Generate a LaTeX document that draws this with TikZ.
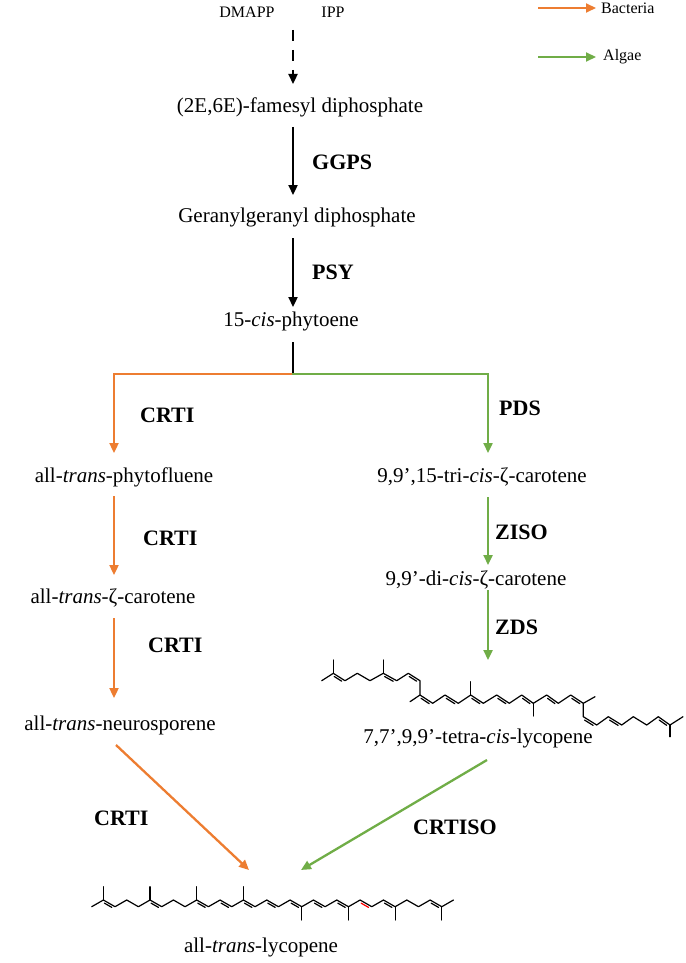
\documentclass[tikz,border=0pt]{standalone}
\usepackage{fontspec}
\setmainfont{Liberation Serif}
\usetikzlibrary{arrows.meta,calc}
\definecolor{borange}{RGB}{237,125,49}
\definecolor{agreen}{RGB}{112,173,71}
\newcommand{\dbond}[3][black]{\draw[mol,#1] ($ ($(#2)!0.18!(#3)$)!2.2pt!-90:(#3) $) -- ($ ($(#2)!0.82!(#3)$)!2.2pt!90:(#2) $);}
\begin{document}
\begin{tikzpicture}[x=1pt,y=-1pt,
  txt/.style={font=\fontsize{21}{24}\selectfont, inner sep=0pt},
  small/.style={font=\fontsize{16}{19}\selectfont, inner sep=0pt},
  enz/.style={font=\fontsize{22}{25}\selectfont\bfseries, inner sep=0pt, anchor=west},
  arr/.style={line width=2.3pt,-{Triangle[length=10pt,width=9pt]}},
  mol/.style={line width=1.2pt, line cap=round, line join=round}]
\useasboundingbox (0,0) rectangle (685,963);
% legend
\coordinate (lb1) at (538,8); \coordinate (lb2) at (596,8);
\coordinate (la1) at (538,57); \coordinate (la2) at (596,57);
\draw[arr,borange,line width=2pt] (lb1) -- (lb2);
\draw[arr,agreen,line width=2pt] (la1) -- (la2);
\node[small,anchor=west] (lbac) at (601,8) {Bacteria};
\node[small,anchor=west] (lalg) at (603,57) {Algae};
% top
\node[small] (dmapp) at (247,12) {DMAPP};
\node[small] (ipp) at (333,12) {IPP};
\coordinate (ds) at (293,30);
\node[txt] (fpp) at (300,107) {(2E,6E)-famesyl diphosphate};
\node[txt] (ggpp) at (297,217) {Geranylgeranyl diphosphate};
\node[txt] (phy) at (291,321) {15-\textit{cis}-phytoene};
\draw[arr,dash pattern=on 11pt off 9pt] (ds) -- (293,84);
\draw[arr] (293,127) -- (293,195);
\node[enz] (ggps) at (312,162) {GGPS};
\draw[arr] (293,238) -- (293,307);
\node[enz] (psy) at (312,272) {PSY};
\coordinate (br) at (293,374);
\coordinate (bl) at (114,374);
\coordinate (bg) at (488,374);
\draw[line width=2.3pt] (293,342) -- (br);
\draw[line width=2.3pt,borange,line cap=rect] (br) -- (bl);
\draw[line width=2.3pt,agreen,line cap=rect] (br) -- (bg);
\draw[arr,borange] (bl) -- (114,453);
\draw[arr,agreen] (bg) -- (488,453);
\node[enz] at (140,415) {CRTI};
\node[enz] at (499,408) {PDS};
% left column
\node[txt] (pf) at (124,477) {all-\textit{trans}-phytofluene};
\node[txt] (zc) at (113,598) {all-\textit{trans}-ζ-carotene};
\node[txt] (ns) at (120,725) {all-\textit{trans}-neurosporene};
\draw[arr,borange] (114,496) -- (114,575);
\node[enz] at (143,538) {CRTI};
\draw[arr,borange] (114,618) -- (114,698);
\node[enz] at (148,645) {CRTI};
% right column
\node[txt] (tc) at (482,477) {9,9’,15-tri-\textit{cis}-ζ-carotene};
\node[txt] (dc) at (476,580) {9,9’-di-\textit{cis}-ζ-carotene};
\draw[arr,agreen] (488,497) -- (488,565);
\node[enz] at (495,532) {ZISO};
\draw[arr,agreen] (488,590) -- (488,660);
\node[enz] at (495,627) {ZDS};
\node[txt] (tl) at (478,738) {7,7’,9,9’-tetra-\textit{cis}-lycopene};
% bottom arrows
\draw[arr,borange] (116,745) -- (249,870);
\node[enz] at (94,818) {CRTI};
\draw[arr,agreen] (487,760) -- (301,870);
\node[enz] at (413,827) {CRTISO};
\node[txt] (lyc) at (261,947) {all-\textit{trans}-lycopene};
% bottom molecule
\foreach \i in {0,...,31}{
  \pgfmathsetmacro{\xx}{91.7+11.67*\i}
  \pgfmathsetmacro{\yy}{isodd(\i) ? 900 : 906.7}
  \coordinate (b\i) at (\xx,\yy);}
\draw[mol] (b0) \foreach \i in {1,...,31}{ -- (b\i)};
\foreach \i in {1,5,9,13}{\draw[mol] (b\i) -- ++(0,-13.3);}
\foreach \i in {18,22,26,30}{\draw[mol] (b\i) -- ++(0,13.3);}
\foreach \i/\j in {1/2,5/6,9/10,11/12,13/14,15/16,17/18,19/20,21/22,25/26,29/30}{\dbond{b\i}{b\j}}
\dbond[red]{b23}{b24}
% top molecule
\coordinate (t0) at (321.7,680.7); \coordinate (t1) at (333.3,673.3);
\coordinate (t2) at (345,680.7); \coordinate (t3) at (357.3,673.3);
\coordinate (t4) at (370,680.7); \coordinate (t5) at (383.3,673.3);
\coordinate (t6) at (396.7,680.7); \coordinate (t7) at (408.3,673.3);
\coordinate (t8) at (420,680.7); \coordinate (t9) at (420,695);
\coordinate (t10) at (432.7,703.3); \coordinate (t11) at (445,695);
\coordinate (t12) at (458.3,703.3); \coordinate (t13) at (470.7,695);
\coordinate (t14) at (483.3,703.3); \coordinate (t15) at (496.7,695);
\coordinate (t16) at (509.3,703.3); \coordinate (t17) at (521.7,695);
\coordinate (t18) at (533.3,703.3); \coordinate (t19) at (546.7,695);
\coordinate (t20) at (558.3,703.3); \coordinate (t21) at (570.7,695);
\coordinate (t22) at (583.3,703.3); \coordinate (t23) at (583.3,716.7);
\coordinate (t24) at (596.7,725); \coordinate (t25) at (608.3,716.7);
\coordinate (t26) at (621.7,725); \coordinate (t27) at (633.3,716.7);
\coordinate (t28) at (646.7,725); \coordinate (t29) at (658.3,716.7);
\coordinate (t30) at (670,725); \coordinate (t31) at (683,716.7);
\draw[mol] (t0) \foreach \i in {1,...,31}{ -- (t\i)};
\draw[mol] (t1) -- ++(0,-13.3); \draw[mol] (t5) -- ++(0,-13.3);
\draw[mol] (t9) -- (410,701.7); \draw[mol] (t13) -- ++(0,-13.3);
\draw[mol] (t18) -- ++(0,12.7); \draw[mol] (t22) -- (595,696.7);
\draw[mol] (t30) -- ++(0,11.7);
\foreach \i/\j in {1/2,5/6,7/8,9/10,11/12,13/14,15/16,17/18,19/20,21/22,23/24,25/26,29/30}{\dbond{t\i}{t\j}}
\end{tikzpicture}
\end{document}
